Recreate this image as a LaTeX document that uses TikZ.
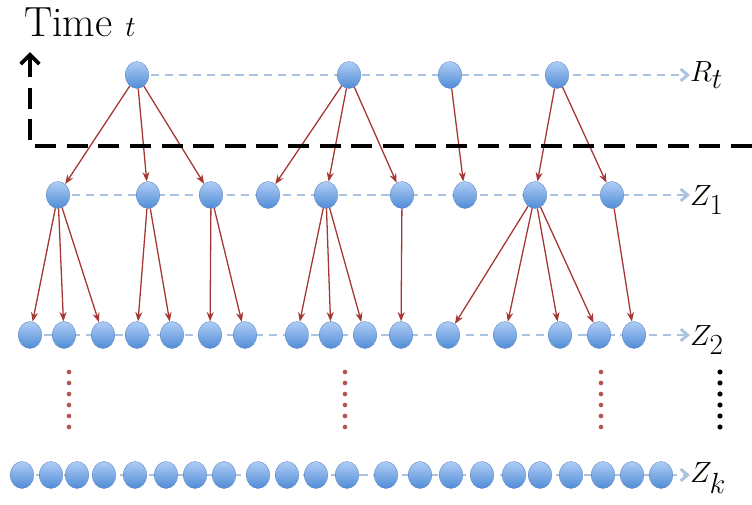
\documentclass[tikz,border=0pt]{standalone}
\usetikzlibrary{arrows.meta,shapes.geometric}
\definecolor{ntop}{RGB}{175,205,245}
\definecolor{nbot}{RGB}{80,140,215}
\definecolor{nline}{RGB}{90,130,190}
\definecolor{rowc}{RGB}{170,195,225}
\definecolor{edc}{RGB}{165,55,50}
\begin{document}
\begin{tikzpicture}[x=0.03cm,y=-0.03cm,
  nd/.style={ellipse,minimum width=20,minimum height=23,inner sep=0,top color=ntop,bottom color=nbot,draw=nline,line width=0.3pt},
  ed/.style={draw=edc,line width=1.1pt,-{Stealth[length=8pt,width=6pt]}},
  row/.style={draw=rowc,line width=2.5pt,dash pattern=on 7pt off 5pt,-{Straight Barb[length=6pt,width=10pt]}},
  lab/.style={font=\fontsize{40}{44}\selectfont,anchor=west}]
\useasboundingbox (0,0) rectangle (752,505);
% rows
\foreach \x [count=\i] in {137,349,450,557} \coordinate (r\i) at (\x,75);
\foreach \x [count=\i] in {58,148,211,268,326,402,465,535,612} \coordinate (a\i) at (\x,195);
\foreach \x [count=\i] in {30,64,103,137,172,210,245,297,331,365,401,448,505,560,599,634} \coordinate (b\i) at (\x,335);
\foreach \x [count=\i] in {22,51,77,104,135,166,195,224,258,287,316,347,386,420,451,482,514,540,571,603,632,661} \coordinate (c\i) at (\x,475);
\coordinate (er) at (690,75);\coordinate (ea) at (690,195);\coordinate (eb) at (690,335);\coordinate (ec) at (690,475);
\draw[row] (r1) -- (er); \draw[row] (a1) -- (ea); \draw[row] (b1) -- (eb); \draw[row] (c1) -- (ec);
\foreach \i in {1,...,4} \node[nd] (R\i) at (r\i) {};
\foreach \i in {1,...,9} \node[nd] (A\i) at (a\i) {};
\foreach \i in {1,...,16} \node[nd] (B\i) at (b\i) {};
\foreach \i in {1,...,22} \node[nd] (C\i) at (c\i) {};
% edges
\foreach \p/\c in {1/1,1/2,1/3,2/4,2/5,2/6,3/7,4/8,4/9} \draw[ed] (R\p) -- (A\c);
\foreach \p/\c in {1/1,1/2,1/3,2/4,2/5,3/6,3/7,5/8,5/9,5/10,6/11,8/12,8/13,8/14,8/15,9/16} \draw[ed] (A\p) -- (B\c);
% dotted columns
\foreach \x in {69,345,601} \foreach \y in {372,383,...,436} \fill[edc!85] (\x,\y) circle (2pt);
\foreach \y in {372,383,...,436} \fill[black] (720,\y) circle (2.2pt);
% time axis
\coordinate (t0) at (752,146); \coordinate (t1) at (30,146); \coordinate (t2) at (30,52);
\draw[line width=3.2pt,dash pattern=on 18pt off 9pt,-{Straight Barb[length=8pt,width=16pt]}] (t0) -- (t1) -- (t2);
\node[font=\fontsize{36}{40}\selectfont] (time) at (80,22) {Time $t$};
\node[lab] (lr) at (686,75) {$R_t$};
\node[lab] (l1) at (686,200) {$Z_1$};
\node[lab] (l2) at (686,340) {$Z_2$};
\node[lab] (lk) at (686,478) {$Z_k$};
\end{tikzpicture}
\end{document}
